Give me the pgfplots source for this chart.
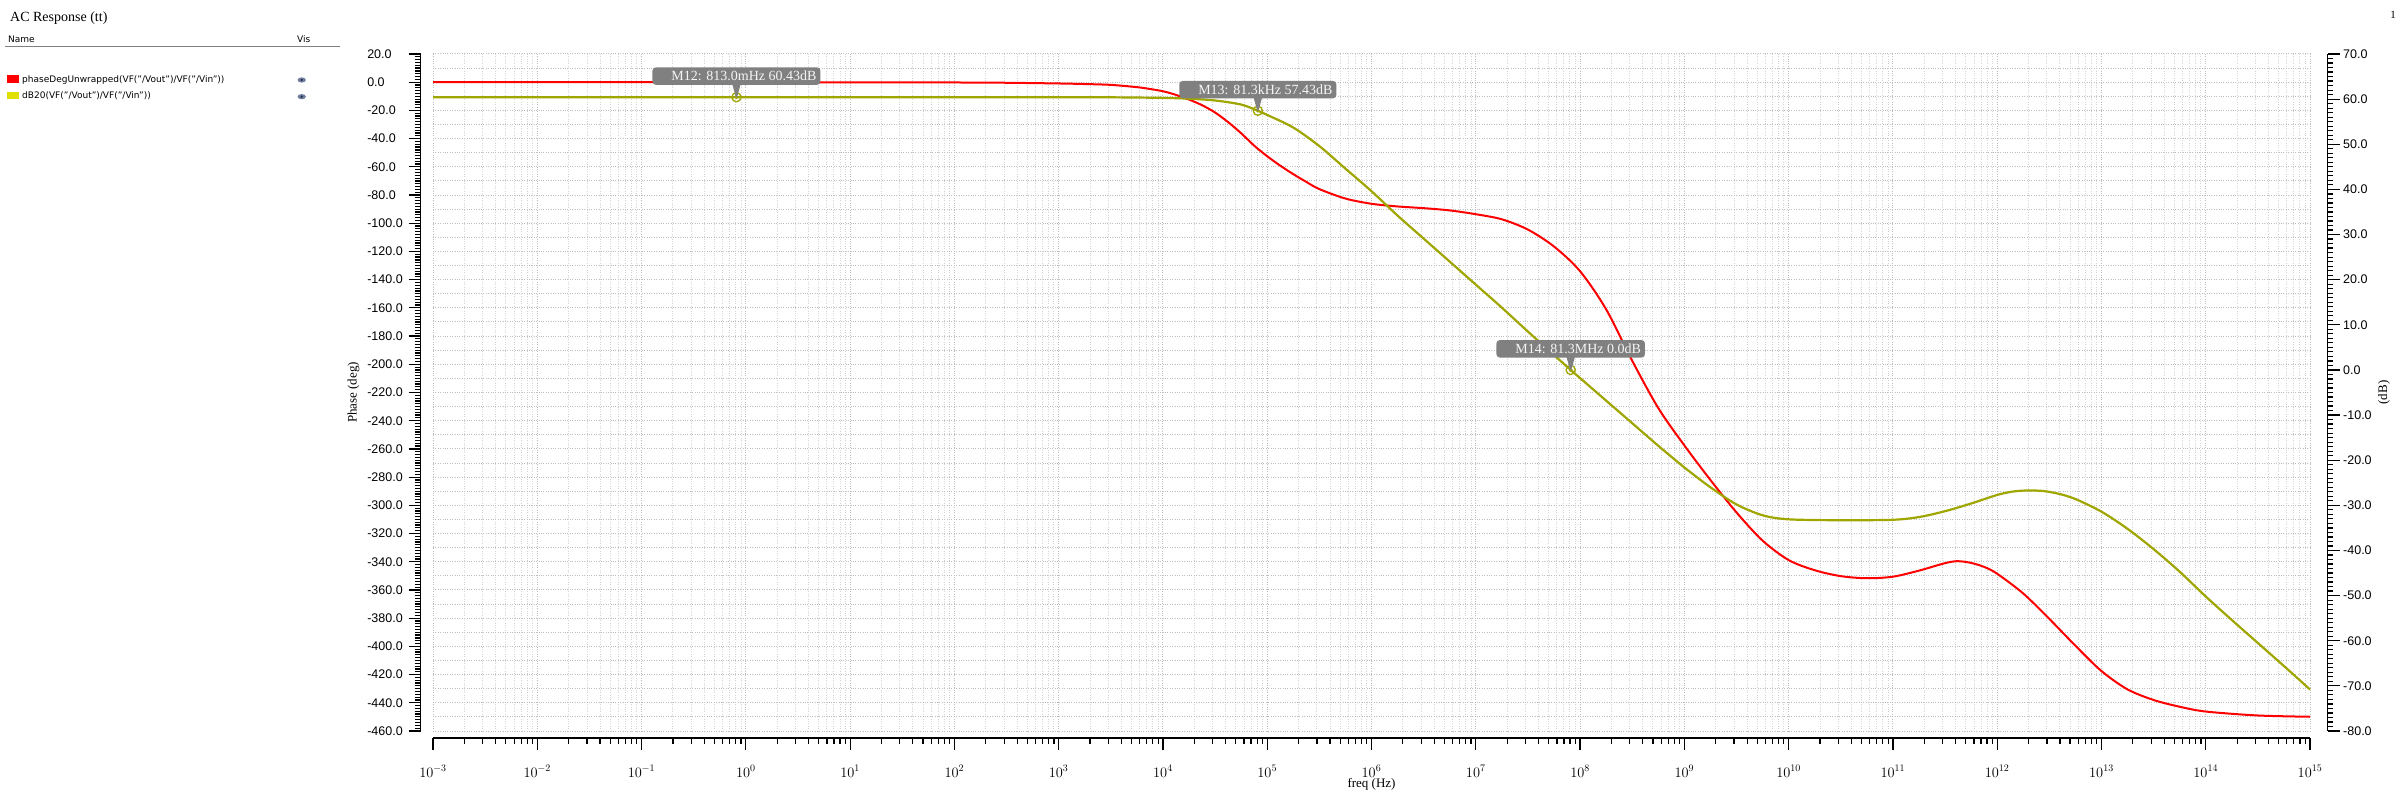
\documentclass[border=0pt]{standalone}
\usepackage{fontspec}
\setmainfont{Liberation Serif}
\setsansfont{DejaVu Sans}
\newfontfamily\ticksans{Liberation Sans}
\usepackage{pgfplots}
\usepackage{pgfplotstable}
\pgfplotsset{compat=1.18}
\usetikzlibrary{shapes.callouts}
\definecolor{dbcol}{RGB}{160,166,0}
\definecolor{dbleg}{RGB}{224,224,0}
\definecolor{gridc}{RGB}{190,190,190}
\definecolor{gridm}{RGB}{212,212,212}
\definecolor{mkbox}{RGB}{128,128,128}
\definecolor{eyec}{RGB}{110,125,160}
\definecolor{mktext}{RGB}{245,245,245}

\pgfplotstableread{
f p
1e-3 0
1 -0.05
1e1 -0.1
1e2 -0.2
3.162e2 -0.4
1e3 -0.9
1.778e3 -1.3
3.162e3 -1.9
5.623e3 -3.5
7.499e3 -4.8
1e4 -6.4
1.334e4 -9.0
1.778e4 -12.3
2.371e4 -16.3
3.162e4 -21.5
4.217e4 -28.3
5.623e4 -36.2
7.499e4 -45.0
1e5 -52.5
1.334e5 -59.2
1.778e5 -65.2
2.371e5 -70.7
3.162e5 -75.8
5.623e5 -82.5
1e6 -86.2
1.778e6 -88.1
3.162e6 -89.3
5.623e6 -90.9
1e7 -93.6
1.778e7 -97.2
3.162e7 -104.5
5.623e7 -116.5
1e8 -134
1.778e8 -161
3.162e8 -197.5
5.623e8 -231
1e9 -257.5
1.778e9 -282
3.162e9 -305
5.623e9 -325
1e10 -338.8
1.778e10 -346
3.162e10 -350.2
5.623e10 -351.7
1e11 -350.6
1.778e11 -346.3
3.162e11 -341.0
4.169e11 -339.6
5.623e11 -340.8
7.586e11 -343.8
1e12 -348.5
1.778e12 -362.5
3.162e12 -380.5
5.623e12 -399.5
1e13 -417.5
1.778e13 -430.5
3.162e13 -438
5.623e13 -442.8
1e14 -446.2
3.162e14 -449
1e15 -449.9
}\phasetab

\pgfplotstableread{
f d
1e-3 60.43
1e3 60.42
3.162e3 60.40
5.623e3 60.35
1e4 60.28
1.778e4 60.1
3.162e4 59.7
5.623e4 58.8
8.13e4 57.43
1e5 56.5
1.778e5 53.7
3.162e5 49.6
5.623e5 44.6
1e6 39.6
1.778e6 34.2
3.162e6 29.1
5.623e6 24.0
1e7 18.9
1.778e7 13.8
3.162e7 8.5
5.623e7 3.3
8.13e7 0.0
1e8 -1.8
1.778e8 -6.8
3.162e8 -11.8
5.623e8 -16.8
1e9 -21.6
1.778e9 -26.0
3.162e9 -29.8
5.623e9 -32.2
1e10 -33.1
3.162e10 -33.3
1e11 -33.2
1.778e11 -32.6
3.162e11 -31.3
5.623e11 -29.6
1e12 -27.7
1.413e12 -26.95
1.995e12 -26.7
2.818e12 -26.85
3.981e12 -27.5
5.623e12 -28.6
1e13 -31.4
1.778e13 -35.2
3.162e13 -39.7
5.623e13 -44.7
1e14 -50.2
1.778e14 -55.4
3.162e14 -60.5
5.623e14 -65.6
1e15 -70.8
}\dbtab

\begin{document}
\begin{tikzpicture}[x=1pt,y=1pt]
\path[use as bounding box, fill=white] (0,0) rectangle (2400,800);

\begin{axis}[
  at={(433pt,69pt)}, anchor=south west,
  scale only axis, width=1877pt, height=677pt,
  xmode=log, xmin=1e-3, xmax=1e15,
  tick align=outside,
  major tick length=12pt, minor tick length=6pt,
  tick style={black, line width=1.2pt},
  x axis line style={-, line width=1.3pt},
  y axis line style={-, line width=1.3pt},
  ymin=-460, ymax=20,
  axis x line*=bottom, axis y line*=left,
  axis x line shift=7pt, axis y line shift=12.3pt,
  xtick={1e-3,1e-2,1e-1,1,1e1,1e2,1e3,1e4,1e5,1e6,1e7,1e8,1e9,1e10,1e11,1e12,1e13,1e14,1e15},
  ytick={-460,-440,...,20},
  minor y tick num=9,
  extra y ticks={-450,-430,...,10},
  extra y tick labels={},
  extra y tick style={major tick length=0pt, grid=major},
  xmajorgrids, xminorgrids, ymajorgrids,
  major grid style={dotted, gridc, line width=1pt},
  minor grid style={dotted, gridm, line width=1pt},
  yticklabel style={font=\ticksans\fontsize{12.5}{14}\selectfont, anchor=west, xshift=-45pt,
    /pgf/number format/.cd, fixed, fixed zerofill, precision=1, assume math mode=true},
  xticklabel style={font=\fontsize{14}{16}\selectfont, yshift=-12pt},
  ylabel={Phase (deg)},
  ylabel style={font=\fontsize{13}{15}\selectfont, at={(axis description cs:-0.0423,0.5)}, anchor=center},
  xlabel={freq (Hz)},
  xlabel style={font=\fontsize{13}{15}\selectfont, at={(axis description cs:0.5,-0.079)}, anchor=center},
]
\addplot[red, line width=2pt, smooth, tension=0.5] table[x=f, y=p] {\phasetab};
\end{axis}

\begin{axis}[
  at={(433pt,69pt)}, anchor=south west,
  scale only axis, width=1894.7pt, height=677pt,
  xmode=log, xmin=1e-3, xmax=1.4784e15,
  tick align=outside,
  major tick length=12pt, minor tick length=5pt,
  tick style={black, line width=1.2pt},
  y axis line style={-, line width=1.3pt},
  ymin=-80, ymax=70,
  axis x line=none, axis y line*=right,
  ytick={-80,-70,...,70},
  minor y tick num=9,
  yticklabel style={font=\ticksans\fontsize{12.5}{14}\selectfont,
    /pgf/number format/.cd, fixed, fixed zerofill, precision=1, assume math mode=true},
  ylabel={(dB)},
  ylabel style={font=\fontsize{13}{15}\selectfont, at={(axis description cs:1.0297,0.5)}, anchor=center},
]
\addplot[dbcol, line width=2.2pt, smooth, tension=0.5] table[x=f, y=d] {\dbtab};
\addplot[only marks, mark=*, mark size=1.6pt, mark options={fill=dbcol, draw=dbcol}] coordinates {(0.813,60.43) (8.13e4,57.43) (8.13e7,0)};
\addplot[only marks, mark=o, mark size=4.6pt, mark options={draw=dbcol, line width=1.3pt},
  point meta=explicit symbolic, nodes near coords,
  every node near coord/.style={shape=rectangle callout, fill=mkbox, text=mktext,
    rounded corners=3.5pt, inner xsep=0pt, inner ysep=0pt, minimum height=17.5pt,
    callout relative pointer={(0pt,-14.7pt)}, callout pointer width=8pt,
    font=\fontsize{14}{16}\selectfont, anchor=south, yshift=11.7pt}]
  coordinates {(0.813,60.43)[\hspace*{19pt}M12: 813.0mHz 60.43dB\hspace*{4pt}]
               (8.13e4,57.43)[\hspace*{19pt}M13: 81.3kHz 57.43dB\hspace*{4pt}]
               (8.13e7,0)[\hspace*{19pt}M14: 81.3MHz 0.0dB\hspace*{4pt}]};
\end{axis}

% header and legend panel
\node[anchor=base west, inner sep=0pt, font=\fontsize{14}{16}\selectfont] at (10,778.3) {AC Response (tt)};
\node[anchor=base east, inner sep=0pt, font=\fontsize{11}{13}\selectfont] at (2396,781) {1};
\node[anchor=base west, inner sep=0pt, font=\sffamily\fontsize{9}{11}\selectfont] at (8,757.7) {Name};
\node[anchor=base west, inner sep=0pt, font=\sffamily\fontsize{9}{11}\selectfont] at (297,757.7) {Vis};
\draw[gray, line width=1.5pt] (5,753.3) -- (340,753.3);
\fill[red] (7,717.3) rectangle (19,725);
\node[anchor=base west, inner sep=0pt, font=\sffamily\fontsize{9}{11}\selectfont] at (22,717.7) {phaseDegUnwrapped(VF("/Vout")/VF("/Vin"))};
\fill[dbleg] (7,700.7) rectangle (19,707.7);
\node[anchor=base west, inner sep=0pt, font=\sffamily\fontsize{9}{11}\selectfont] at (22,701.1) {dB20(VF("/Vout")/VF("/Vin"))};
\fill[eyec] (301.7,720) ellipse (4.2pt and 2.6pt);
\fill[eyec!40!black] (301.7,720) circle (1.3pt);
\fill[eyec] (301.7,703.3) ellipse (4.2pt and 2.6pt);
\fill[eyec!40!black] (301.7,703.3) circle (1.3pt);
\end{tikzpicture}
\end{document}
